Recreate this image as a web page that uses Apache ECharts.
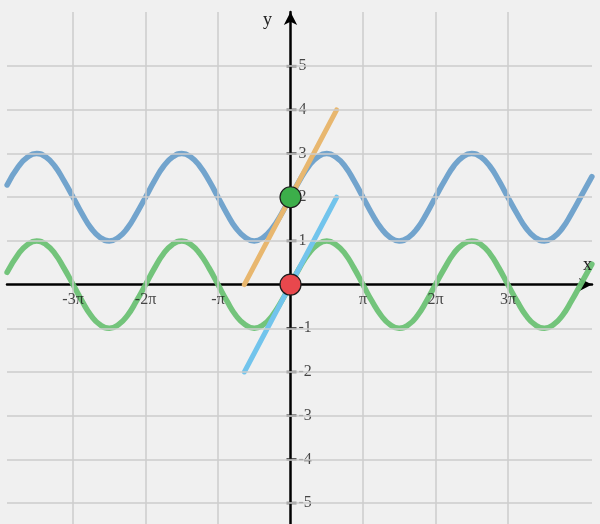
<!DOCTYPE html>
<html>
<head>
<meta charset="utf-8">
<script src="https://cdn.jsdelivr.net/npm/echarts@6/dist/echarts.min.js"></script>
<style>
html,body{margin:0;padding:0;background:#f0f0f0;}
#chart{width:600px;height:524px;}
</style>
</head>
<body>
<div id="chart"></div>
<script>
// ---- data ----
var PI = Math.PI;
var xTickValues = [-3 * PI, -2 * PI, -PI, PI, 2 * PI, 3 * PI];
var xTickLabels = ['-3π', '-2π', '-π', 'π', '2π', '3π'];
var yTickValues = [-5, -4, -3, -2, -1, 1, 2, 3, 4, 5];
var yTickLabels = ['-5', '-4', '-3', '-2', '-1', '1', '2', '3', '4', '5'];

var curveX = [-12.28,
  -11.78, -11.39, -11.00, -10.60, -10.21, -9.82, -9.42, -9.03, -8.64, -8.25, -7.85, -7.46, -7.07, -6.68, -6.28, -5.89,
  -5.50, -5.11, -4.71, -4.32, -3.93, -3.53, -3.14, -2.75, -2.36, -1.96, -1.57, -1.18, -0.79, -0.39, 0, 0.39,
  0.79, 1.18, 1.57, 1.96, 2.36, 2.75, 3.14, 3.53, 3.93, 4.32, 4.71, 5.11, 5.50, 5.89, 6.28, 6.68,
  7.07, 7.46, 7.85, 8.25, 8.64, 9.03, 9.42, 9.82, 10.21, 10.60, 11.00, 11.39, 11.78, 12.17, 12.57,
  13.06];
var greenY = [0.28,
  0.71, 0.92, 1, 0.92, 0.71, 0.38, 0, -0.38, -0.71, -0.92, -1, -0.92, -0.71, -0.38, 0, 0.38,
  0.71, 0.92, 1, 0.92, 0.71, 0.38, 0, -0.38, -0.71, -0.92, -1, -0.92, -0.71, -0.38, 0, 0.38,
  0.71, 0.92, 1, 0.92, 0.71, 0.38, 0, -0.38, -0.71, -0.92, -1, -0.92, -0.71, -0.38, 0, 0.38,
  0.71, 0.92, 1, 0.92, 0.71, 0.38, 0, -0.38, -0.71, -0.92, -1, -0.92, -0.71, -0.38, 0,
  0.47];
var blueY = [2.28,
  2.71, 2.92, 3, 2.92, 2.71, 2.38, 2, 1.62, 1.29, 1.08, 1, 1.08, 1.29, 1.62, 2, 2.38,
  2.71, 2.92, 3, 2.92, 2.71, 2.38, 2, 1.62, 1.29, 1.08, 1, 1.08, 1.29, 1.62, 2, 2.38,
  2.71, 2.92, 3, 2.92, 2.71, 2.38, 2, 1.62, 1.29, 1.08, 1, 1.08, 1.29, 1.62, 2, 2.38,
  2.71, 2.92, 3, 2.92, 2.71, 2.38, 2, 1.62, 1.29, 1.08, 1, 1.08, 1.29, 1.62, 2,
  2.47];

var orangeX = [-2, 2];
var orangeY = [0, 4];
var skyX = [-2, 2];
var skyY = [-2, 2];

var greenPoint = [0, 2];
var redPoint = [0, 0];

function zip(xs, ys) { return xs.map(function (x, i) { return [x, ys[i]]; }); }

var FONT = 'Liberation Serif';
var chart = echarts.init(document.getElementById('chart'));
chart.setOption({
  animation: false,
  backgroundColor: '#f0f0f0',
  grid: { left: 7, right: 8, top: 12, bottom: 0, containLabel: false, outerBoundsMode: 'none' },
  xAxis: {
    type: 'value', min: -12.285, max: 13.065,
    axisLine: { show: true, onZero: true, symbol: ['none', 'arrow'], symbolSize: [10, 13],
      lineStyle: { color: '#000', width: 2.5 } },
    axisTick: { show: false },
    splitLine: { show: false },
    axisLabel: { show: false }
  },
  yAxis: {
    type: 'value', min: -5.48, max: 6.24,
    axisLine: { show: true, onZero: true, symbol: ['none', 'arrow'], symbolSize: [10, 13],
      lineStyle: { color: '#000', width: 2.5 } },
    axisTick: { show: false },
    splitLine: { show: false },
    axisLabel: { show: false }
  },
  graphic: [
    { type: 'text', left: 583, top: 256, z: 10, style: { text: 'x', font: '18px "Liberation Serif"', fill: '#222' } },
    { type: 'text', left: 263, top: 11, z: 10, style: { text: 'y', font: '18px "Liberation Serif"', fill: '#222' } }
  ],
  series: [
    {
      type: 'line', data: [], silent: true, z: 0,
      markLine: {
        silent: true, symbol: ['none', 'none'], label: { show: false },
        lineStyle: { color: '#cdcdcd', width: 1.5, type: 'solid' },
        data: xTickValues.map(function (v) { return { xAxis: v }; })
          .concat(yTickValues.map(function (v) { return { yAxis: v }; }))
      }
    },
    {
      type: 'scatter', silent: true, z: 1,
      data: yTickValues.map(function (v) { return [0, v]; }),
      symbol: 'rect', symbolSize: [10, 2.5], symbolOffset: [1, 0],
      itemStyle: { color: '#222' },
      label: {
        show: true, position: 'right', distance: 2,
        fontFamily: FONT, fontSize: 16, color: '#1a1a1a',
        formatter: function (p) { return yTickLabels[p.dataIndex]; }
      }
    },
    {
      type: 'scatter', silent: true, z: 6,
      data: xTickValues.map(function (v) { return [v, 0]; }),
      symbolSize: 0,
      label: {
        show: true, position: 'bottom', distance: 7,
        fontFamily: FONT, fontSize: 16, color: '#1a1a1a',
        formatter: function (p) { return xTickLabels[p.dataIndex]; }
      }
    },
    {
      type: 'line', data: zip(curveX, blueY), smooth: 0.5, showSymbol: false, z: 3,
      lineStyle: { color: '#6a9fca', width: 5.5, cap: 'round', opacity: 0.95 }
    },
    {
      type: 'line', data: zip(curveX, greenY), smooth: 0.5, showSymbol: false, z: 3,
      lineStyle: { color: '#6cc174', width: 5.5, cap: 'round', opacity: 0.95 }
    },
    {
      type: 'line', data: zip(orangeX, orangeY), showSymbol: false, z: 4,
      lineStyle: { color: '#e8b76f', width: 5, cap: 'round' }
    },
    {
      type: 'line', data: zip(skyX, skyY), showSymbol: false, z: 4,
      lineStyle: { color: '#72c4ec', width: 5, cap: 'round' }
    },
    {
      type: 'scatter', data: [greenPoint], symbolSize: 21, z: 5,
      itemStyle: { color: '#3cae4a', borderColor: '#1d1d1d', borderWidth: 1.2, opacity: 1 }
    },
    {
      type: 'scatter', data: [redPoint], symbolSize: 21, z: 5,
      itemStyle: { color: '#e8484d', borderColor: '#1d1d1d', borderWidth: 1.2, opacity: 1 }
    }
  ]
});
</script>
</body>
</html>
